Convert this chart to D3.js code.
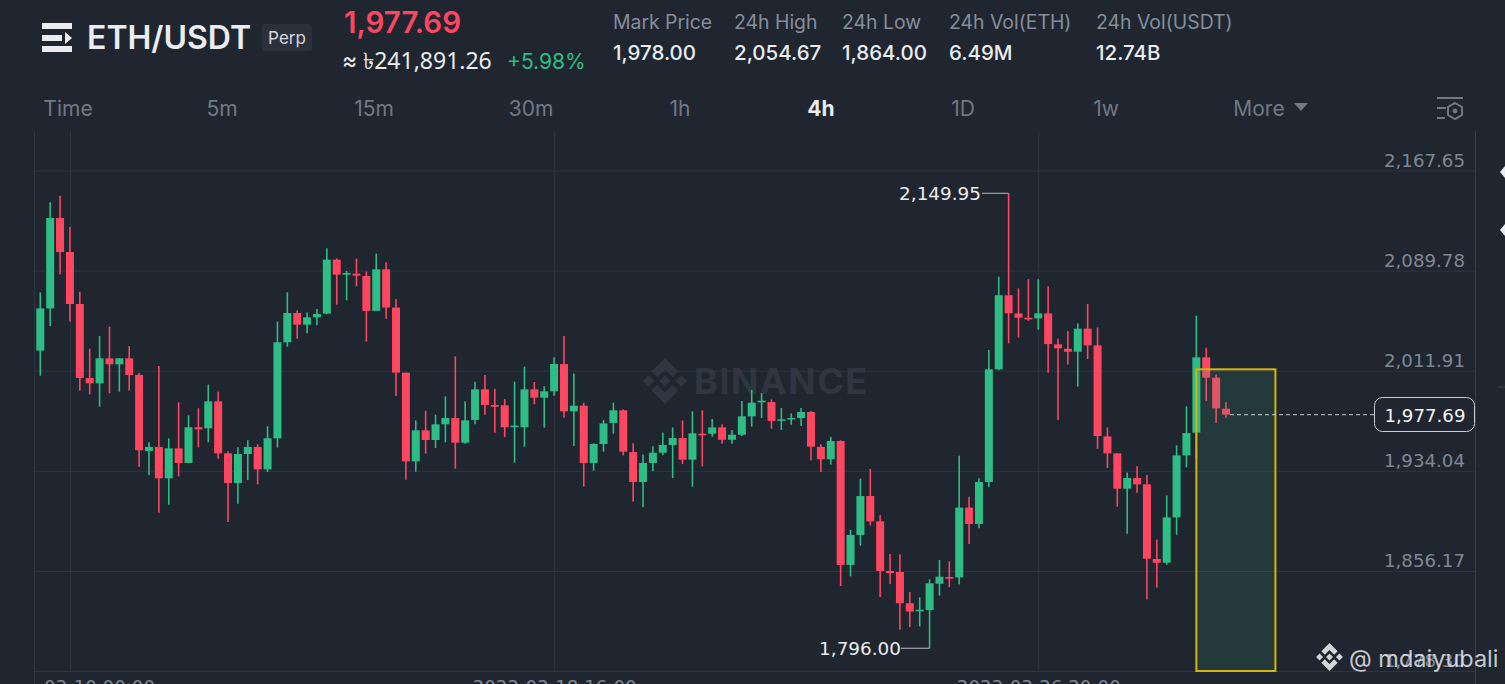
<!DOCTYPE html>
<html>
<head>
<meta charset="utf-8">
<script src="https://cdn.jsdelivr.net/npm/d3@7"></script>
<style>
  html, body { margin: 0; padding: 0; background: #1f2630; overflow: hidden; }
  svg { display: block; font-family: Inter, "Noto Sans", sans-serif; }
</style>
</head>
<body>
<svg id="chart" width="1505" height="684"></svg>
<script>
// 4h candles
const opens = [
  2027.5,2060.4,2130.7,2104.2,2063.8,2006.2,2002.1,2021.5,2016.9,2021.5,
  2008.6,1949.4,1952.6,1928.2,1951.5,1940.1,1967.9,1967.1,1988.1,1947.6,
  1924.5,1947.1,1952.6,1935.2,1959.3,2034.0,2056.8,2047.7,2053.4,2056.3,
  2098.3,2086.6,2087.4,2085.6,2058.4,2090.8,2061.0,2010.4,1941.4,1965.5,
  1958.0,1970.2,1975.1,1955.9,1973.6,1997.4,1985.2,1985.0,1967.9,1967.9,
  1997.4,1990.9,1995.9,2017.1,1980.3,1984.7,1940.1,1954.9,1971.2,1981.1,
  1948.6,1925.3,1940.1,1948.1,1954.1,1959.5,1942.7,1962.9,1962.9,1967.8,
  1958.2,1962.1,1976.4,1987.3,1987.5,1973.0,1974.3,1975.1,1979.8,1952.6,
  1943.0,1957.2,1860.8,1884.1,1914.4,1894.7,1856.1,1855.3,1831.0,1824.7,
  1825.7,1846.2,1851.4,1851.1,1905.4,1892.7,1925.3,2013.0,2070.6,2056.5,
  2053.1,2052.6,2056.5,2032.4,2029.0,2026.7,2044.6,2031.6,1960.8,1947.6,
  1920.1,1928.4,1923.5,1865.4,1862.5,1897.8,1946.0,1963.7,2022.3,2006.5,
  1982.3
];
const closes = [
  2060.4,2130.7,2104.2,2063.8,2006.2,2002.1,2021.5,2016.9,2021.5,2008.6,
  1950.0,1952.6,1928.2,1951.5,1940.1,1967.9,1966.3,1988.1,1947.6,1924.5,
  1947.1,1952.6,1935.2,1959.3,2034.0,2056.8,2047.7,2053.4,2056.0,2098.3,
  2086.6,2087.9,2085.9,2058.4,2090.8,2061.0,2010.4,1941.4,1965.5,1958.0,
  1970.2,1975.1,1955.9,1973.3,1997.4,1985.2,1983.9,1967.9,1969.2,1997.4,
  1990.9,1995.9,2017.1,1980.3,1984.7,1940.1,1954.9,1970.9,1981.1,1948.9,
  1925.3,1940.1,1948.1,1954.1,1959.5,1942.7,1963.2,1961.6,1967.8,1958.2,
  1962.1,1976.4,1987.0,1988.6,1972.8,1974.1,1975.1,1979.8,1952.8,1943.0,
  1957.2,1860.8,1884.1,1914.4,1894.7,1856.1,1854.5,1831.0,1824.5,1826.0,
  1846.5,1851.7,1850.1,1905.4,1892.7,1925.3,2013.0,2070.6,2056.6,2053.1,
  2051.8,2056.5,2032.6,2029.3,2026.7,2044.6,2031.6,1961.1,1947.6,1920.1,
  1928.4,1923.5,1865.6,1862.5,1897.8,1946.0,1963.4,2022.3,2006.5,1982.6,
  1977.69
];
const highs = [
  2072.9,2142.9,2148.1,2123.7,2073.4,2029.0,2038.9,2046.2,2021.5,2031.1,
  2010.4,1956.2,2015.6,1959.3,1987.3,1977.2,1982.7,2001.1,1995.6,1949.2,
  1952.3,1957.8,1954.7,1968.7,2050.1,2072.9,2058.9,2057.1,2059.9,2107.1,
  2099.3,2089.5,2099.1,2089.0,2103.0,2096.2,2067.7,2010.4,1973.3,1980.6,
  1977.7,1992.0,2023.1,1988.1,2003.4,2008.6,1997.9,1989.9,2003.4,2015.1,
  2003.1,1999.8,2022.3,2038.9,2009.8,1987.0,1955.4,1973.5,1987.0,1981.8,
  1955.4,1946.8,1953.1,1963.7,1967.8,1973.3,1980.3,1981.1,1974.3,1970.2,
  1965.8,1988.3,1996.9,1994.5,1989.6,1982.9,1978.7,1982.9,1980.5,1954.7,
  1960.4,1957.8,1888.0,1927.9,1935.5,1899.4,1869.3,1869.1,1839.8,1835.6,
  1849.6,1864.6,1863.6,1945.8,1913.9,1928.2,2028.0,2085.1,2149.95,2076.0,
  2083.0,2083.0,2077.5,2036.8,2042.8,2048.7,2063.8,2045.6,1967.8,1947.6,
  1932.8,1937.5,1930.7,1880.4,1914.9,1953.8,1984.2,2054.7,2029.8,2009.0,
  1987.3
];
const lows = [
  2008.0,2046.7,2086.9,2050.1,1996.4,1993.5,1983.9,1994.3,1995.6,1996.4,
  1937.2,1930.5,1901.5,1907.7,1929.7,1940.1,1952.3,1956.2,1943.5,1894.2,
  1908.5,1926.9,1923.5,1933.1,1952.1,2030.6,2036.8,2041.0,2047.2,2055.8,
  2063.3,2066.7,2077.6,2034.5,2058.4,2052.4,1992.2,1927.1,1933.4,1947.4,
  1951.8,1956.2,1935.7,1955.1,1970.2,1977.7,1963.7,1960.3,1940.4,1952.8,
  1985.8,1967.6,1992.5,1975.4,1953.3,1921.7,1934.1,1948.9,1962.9,1946.1,
  1910.0,1905.6,1933.6,1946.3,1928.4,1939.3,1921.7,1937.5,1960.6,1955.1,
  1955.1,1961.1,1968.4,1975.1,1966.8,1965.8,1969.9,1968.9,1942.2,1933.1,
  1938.8,1844.4,1852.0,1875.8,1891.4,1835.9,1846.0,1810.4,1812.5,1813.0,
  1796.0,1836.9,1843.6,1845.7,1877.1,1889.3,1921.4,2012.2,2033.2,2037.8,
  2050.8,2043.8,2010.3,1973.5,2016.8,1999.5,2021.0,1951.2,1936.2,1906.1,
  1885.1,1917.0,1834.0,1843.1,1861.0,1884.3,1936.7,1943.7,1988.3,1971.2,
  1975.3
];
const priceTicks = [2167.65, 2089.78, 2011.91, 1934.04, 1856.17, 1778.30];
const timeTicks = [3, 52, 101];
const timeTickLabels = ["03-10 00:00", "2023-03-18 16:00", "2023-03-26 20:00"];
const timeframes = ["Time", "5m", "15m", "30m", "1h", "4h", "1D", "1w", "More"];
const timeframeX = [68, 222, 374, 531, 680, 821, 963, 1106, 1259];
const statLabels = ["Mark Price", "24h High", "24h Low", "24h Vol(ETH)", "24h Vol(USDT)"];
const statValues = ["1,978.00", "2,054.67", "1,864.00", "6.49M", "12.74B"];
const statX = [613, 734, 842, 949, 1096];
const lastPrice = 1977.69;
const highMark = {i: 98, price: 2149.95};
const lowMark = {i: 90, price: 1796.00};

const GREEN = "#2ebd85", RED = "#fd4660", GREY = "#848e9c", BG = "#1f2630", GRID = "#2e3540";
const CHART_FONT = '"DejaVu Sans", sans-serif';

const svg = d3.select("#chart");

const x = d3.scaleLinear().domain([0, 120]).range([40.3, 1226]);
const y = d3.scaleLinear().domain([1778.30, 2167.65]).range([671, 170.5]);

// background
svg.append("rect").attr("width", 1505).attr("height", 684).attr("fill", BG);

// frame lines
svg.append("line").attr("x1", 34.5).attr("x2", 34.5).attr("y1", 131).attr("y2", 684).attr("stroke", GRID);
svg.append("line").attr("x1", 1475.5).attr("x2", 1475.5).attr("y1", 131).attr("y2", 684).attr("stroke", "#363d49");

// grid and price labels
const yAxis = d3.axisLeft(y)
    .tickValues(priceTicks)
    .tickSize(1475 - 35)
    .tickPadding(0)
    .tickFormat(d3.format(",.2f"));
const yG = svg.append("g").attr("transform", "translate(1475,0)").call(yAxis);
yG.select(".domain").remove();
yG.selectAll("line").attr("stroke", GRID);
yG.selectAll("text")
    .attr("x", -10)
    .attr("y", -4.5)
    .attr("dy", 0)
    .attr("fill", "#7f8793")
    .attr("font-family", CHART_FONT)
    .attr("font-size", 18.2);

const xAxis = d3.axisBottom(x)
    .tickValues(timeTicks)
    .tickSize(-(671 - 131))
    .tickPadding(9)
    .tickFormat((d, i) => timeTickLabels[i]);
const xG = svg.append("g").attr("transform", "translate(0,671)").call(xAxis);
xG.select(".domain").remove();
xG.selectAll("line").attr("stroke", GRID);
xG.selectAll("text")
    .attr("fill", "#7f8793")
    .attr("font-family", CHART_FONT)
    .attr("font-size", 18.2)
    .attr("dx", (d, i) => i === 0 ? 29 : 0);

// watermark
function binanceLogo(parent, cx, cy, r, fill, opacity) {
  const s = r / 24;
  const g = parent.append("g")
      .attr("transform", `translate(${cx},${cy}) scale(${s})`)
      .attr("fill", fill).attr("opacity", opacity);
  g.append("path").attr("d", "M0,-24 L14,-10 L8,-4 L0,-12 L-8,-4 L-14,-10 Z");
  g.append("path").attr("d", "M0,24 L14,10 L8,4 L0,12 L-8,4 L-14,10 Z");
  g.append("path").attr("d", "M0,-6 L6,0 L0,6 L-6,0 Z");
  g.append("path").attr("d", "M-17,-6 L-11,0 L-17,6 L-23,0 Z");
  g.append("path").attr("d", "M17,-6 L23,0 L17,6 L11,0 Z");
}
binanceLogo(svg, 665, 381, 23, "#2f3641", 1);
svg.append("text").attr("x", 694).attr("y", 394).attr("fill", "#2f3641")
    .attr("font-size", 36).attr("font-weight", 700).attr("letter-spacing", 1.5).text("BINANCE");

// candles
const candles = d3.range(opens.length).map(i => ({
  i: i, open: opens[i], close: closes[i], high: highs[i], low: lows[i]
}));
const candleColour = d => d.close >= d.open ? GREEN : RED;

const candle = svg.append("g").selectAll("g")
    .data(candles)
    .enter()
  .append("g");

candle.append("line")
    .attr("x1", d => x(d.i)).attr("x2", d => x(d.i))
    .attr("y1", d => y(d.high)).attr("y2", d => y(d.low))
    .attr("stroke", candleColour)
    .attr("stroke-width", 1.6);

candle.append("rect")
    .attr("x", d => x(d.i) - 4)
    .attr("width", 8)
    .attr("y", d => y(Math.max(d.open, d.close)))
    .attr("height", d => Math.max(1.5, Math.abs(y(d.open) - y(d.close))))
    .attr("fill", candleColour);

// high / low markers
svg.append("path")
    .attr("d", `M${x(highMark.i)},${y(highMark.price)}H982`)
    .attr("fill", "none").attr("stroke", "#b7bdc6").attr("stroke-width", 1);
svg.append("text").attr("x", 981).attr("y", y(highMark.price) + 7)
    .attr("text-anchor", "end").attr("fill", "#eaecef")
    .attr("font-family", CHART_FONT).attr("font-size", 18.4)
    .text(d3.format(",.2f")(highMark.price));
svg.append("path")
    .attr("d", `M${x(lowMark.i)},${y(lowMark.price)}H901`)
    .attr("fill", "none").attr("stroke", "#b7bdc6").attr("stroke-width", 1);
svg.append("text").attr("x", 901).attr("y", y(lowMark.price) + 7)
    .attr("text-anchor", "end").attr("fill", "#eaecef")
    .attr("font-family", CHART_FONT).attr("font-size", 18.4)
    .text(d3.format(",.2f")(lowMark.price));

// yellow highlight box
svg.append("rect")
    .attr("x", x(117)).attr("width", x(125) - x(117))
    .attr("y", y(2013)).attr("height", y(1778.30) - y(2013))
    .attr("fill", "#40ab80").attr("fill-opacity", 0.15)
    .attr("stroke", "#d5b30c").attr("stroke-width", 2);

// last price line and tag
svg.append("line")
    .attr("x1", x(120) + 4).attr("x2", 1374)
    .attr("y1", y(lastPrice)).attr("y2", y(lastPrice))
    .attr("stroke", "#c9ced6").attr("stroke-dasharray", "4 3");
svg.append("rect")
    .attr("x", 1374.5).attr("y", 397.5).attr("width", 100).attr("height", 34).attr("rx", 8)
    .attr("fill", BG).attr("stroke", "#c9ced6");
svg.append("text").attr("x", 1425).attr("y", 422)
    .attr("text-anchor", "middle").attr("fill", "#f2f3f5")
    .attr("font-family", CHART_FONT).attr("font-size", 18.2)
    .text(d3.format(",.2f")(lastPrice));

// page header
const header = svg.append("g").attr("id", "header");

const menu = header.append("g").attr("fill", "#eaecef");
menu.append("rect").attr("x", 42).attr("y", 23).attr("width", 30).attr("height", 6);
menu.append("rect").attr("x", 42).attr("y", 35).attr("width", 20).attr("height", 6);
menu.append("rect").attr("x", 42).attr("y", 46).attr("width", 30).attr("height", 6);
menu.append("path").attr("d", "M65,32 L72,38 L65,44 Z");

header.append("text").attr("x", 87).attr("y", 49)
    .attr("fill", "#eaecef").attr("font-size", 32).attr("font-weight", 600).text("ETH/USDT");
header.append("rect").attr("x", 262).attr("y", 24).attr("width", 50).attr("height", 27).attr("rx", 3).attr("fill", "#2b313c");
header.append("text").attr("x", 287).attr("y", 44).attr("text-anchor", "middle")
    .attr("fill", "#d5d8dd").attr("font-size", 17).text("Perp");
header.append("text").attr("x", 344).attr("y", 33)
    .attr("fill", RED).attr("font-size", 29.5).attr("font-weight", 600).text("1,977.69");
header.append("text").attr("x", 342).attr("y", 69)
    .attr("fill", "#eaecef").attr("font-size", 23).attr("font-family", '"Noto Sans", Inter, sans-serif').text("≈ ৳241,891.26");
header.append("text").attr("x", 507).attr("y", 69)
    .attr("fill", GREEN).attr("font-size", 21).text("+5.98%");

header.selectAll(".statLabel")
    .data(statLabels)
    .enter()
  .append("text")
    .attr("class", "statLabel")
    .attr("x", (d, i) => statX[i]).attr("y", 29)
    .attr("fill", GREY).attr("font-size", 19.4)
    .text(d => d);
header.selectAll(".statValue")
    .data(statValues)
    .enter()
  .append("text")
    .attr("class", "statValue")
    .attr("x", (d, i) => statX[i]).attr("y", 60)
    .attr("fill", "#eaecef").attr("font-size", 20.5).attr("font-weight", 500)
    .text(d => d);

// timeframe tabs
header.selectAll(".tab")
    .data(timeframes)
    .enter()
  .append("text")
    .attr("class", "tab")
    .attr("x", (d, i) => timeframeX[i]).attr("y", 116)
    .attr("text-anchor", "middle")
    .attr("fill", d => d === "4h" ? "#eaecef" : "#717985")
    .attr("font-weight", d => d === "4h" ? 700 : 400)
    .attr("font-size", 21)
    .text(d => d);
header.append("path").attr("d", "M1294,103 H1308 L1301,111 Z").attr("fill", "#717985");

// settings icon
const gear = header.append("g").attr("stroke", "#717985").attr("stroke-width", 2).attr("fill", "none");
gear.append("path").attr("d", "M1437,98 H1463 M1437,108 H1446 M1437,118 H1445");
gear.append("path").attr("d", "M1455,103 L1462,107 V115 L1455,119 L1448,115 V107 Z");
header.append("circle").attr("cx", 1455).attr("cy", 111).attr("r", 2.4).attr("fill", "#717985");

// cut-off marks on the right edge
svg.append("path").attr("d", "M1505,166 L1500,172 L1505,178 Z").attr("fill", "#eaecef");
svg.append("path").attr("d", "M1505,224 L1500,230 L1505,236 Z").attr("fill", "#eaecef");
svg.append("line").attr("x1", 1498).attr("x2", 1505).attr("y1", 387).attr("y2", 387).attr("stroke", "#3a414d");

// author watermark
binanceLogo(svg, 1329.5, 657, 14, "#e6e8ea", 0.9);
svg.append("text").attr("x", 1349).attr("y", 667)
    .attr("fill", "#e6e8ea").attr("fill-opacity", 0.85).attr("font-size", 23.5).text("@ mdaiyubali");
</script>
</body>
</html>
